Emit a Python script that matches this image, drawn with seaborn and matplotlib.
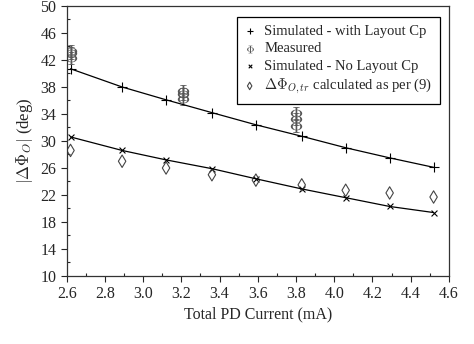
import matplotlib
matplotlib.use("Agg")
import matplotlib.pyplot as plt
import seaborn as sns
import pandas as pd
from matplotlib.ticker import MultipleLocator

current = [2.62, 2.89, 3.12, 3.36, 3.59, 3.83, 4.06, 4.29, 4.52]
sim_with_cp = [40.7, 38.0, 36.1, 34.2, 32.4, 30.7, 29.0, 27.5, 26.1]
sim_no_cp = [30.6, 28.6, 27.2, 25.9, 24.4, 22.9, 21.6, 20.3, 19.4]
calc_tr = [28.6, 27.0, 26.0, 25.0, 24.2, 23.5, 22.7, 22.3, 21.7]
meas_x = [2.62, 2.62, 2.62, 3.21, 3.21, 3.21, 3.80, 3.80, 3.80]
meas_y = [43.4, 43.1, 42.3, 37.4, 37.0, 36.2, 34.1, 33.3, 32.2]
y_ticks = [10, 14, 18, 22, 26, 30, 34, 38, 42, 46, 50]

sns.set_style("ticks")
plt.rcParams['font.family'] = ['Liberation Serif', 'DejaVu Serif']
plt.rcParams['mathtext.fontset'] = 'cm'

fig = plt.figure(figsize=(4.74, 3.44), dpi=100)
ax = fig.add_axes([0.1407, 0.1977, 0.947 - 0.1407, 0.9826 - 0.1977])

df = pd.DataFrame({"x": current, "with": sim_with_cp, "no": sim_no_cp, "tr": calc_tr})
dm = pd.DataFrame({"x": meas_x, "y": meas_y})

sns.lineplot(data=df, x="x", y="with", color="black", lw=0.9, ax=ax, legend=False)
sns.lineplot(data=df, x="x", y="no", color="black", lw=0.9, ax=ax, legend=False)

sns.scatterplot(data=df, x="x", y="with", marker="+", s=45, color="black",
                linewidth=0.8, ax=ax, label="Simulated - with Layout Cp")
sns.scatterplot(data=dm, x="x", y="y", marker=r"$\Phi$", s=85, color="#555555",
                linewidth=0, ax=ax, label="Measured")
sns.scatterplot(data=df, x="x", y="no", marker="x", s=18, color="black",
                linewidth=0.8, ax=ax, label="Simulated - No Layout Cp")
sns.scatterplot(data=df, x="x", y="tr", marker="d", s=40, facecolor="none",
                edgecolor="#444444", linewidth=0.8, ax=ax,
                label=r"$\Delta\Phi_{O,tr}$ calculated as per (9)")

ax.set_xlim(2.6, 4.6)
ax.set_ylim(10, 50)
ax.xaxis.set_major_locator(MultipleLocator(0.2))
ax.xaxis.set_minor_locator(MultipleLocator(0.1))
ax.set_yticks(y_ticks)
ax.set_yticklabels([str(v) for v in y_ticks])
ax.yaxis.set_minor_locator(MultipleLocator(2))
ax.set_xticklabels([f"{v:.1f}" for v in ax.get_xticks()])
ax.tick_params(which="major", direction="out", length=4, width=0.8, labelsize=11.5)
ax.tick_params(which="minor", direction="in", length=2.5, width=0.8)
for s in ax.spines.values():
    s.set_visible(True)
    s.set_linewidth(0.9)
    s.set_color("#333333")

ax.set_xlabel("Total PD Current (mA)", fontsize=11.5, labelpad=3)
ax.set_ylabel(r"$|\Delta\Phi_O|$ (deg)", fontsize=12, labelpad=4)

leg = ax.legend(loc="upper right", fontsize=10.5, frameon=True, fancybox=False,
                edgecolor="black", framealpha=1, handlelength=0.8,
                handletextpad=0.6, borderpad=0.5, labelspacing=0.3,
                markerscale=0.6, bbox_to_anchor=(0.995, 0.985))
leg.get_frame().set_linewidth(0.9)

fig.savefig("out.png", dpi=100)
